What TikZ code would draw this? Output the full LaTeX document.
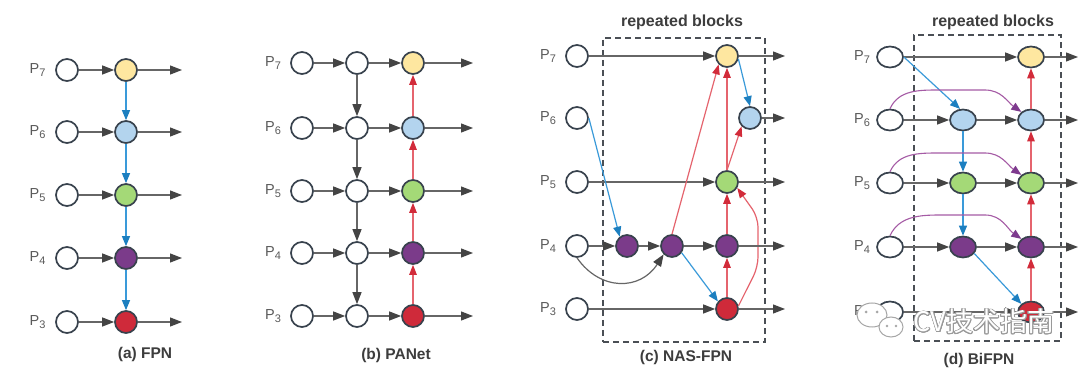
\documentclass[tikz,border=0pt]{standalone}
\usepackage{fontspec}
\setmainfont{Liberation Sans}
\newfontfamily\cjkf{Noto Sans CJK SC}
\usepackage{contour}
\usetikzlibrary{arrows.meta,shapes.geometric}
\definecolor{nline}{HTML}{38424D}
\definecolor{cyel}{HTML}{FEE7A0}
\definecolor{cblu}{HTML}{B3D4EE}
\definecolor{cgrn}{HTML}{A4D977}
\definecolor{cpur}{HTML}{7B3B8A}
\definecolor{cred}{HTML}{CF2A3A}
\definecolor{lgray}{HTML}{666666}
\definecolor{dgray}{HTML}{444444}
\definecolor{lblue}{HTML}{3A9AD9}
\definecolor{hblue}{HTML}{1C7FC0}
\definecolor{lred}{HTML}{E5646E}
\definecolor{hred}{HTML}{D22B3A}
\definecolor{lpur}{HTML}{A55BA5}
\definecolor{hpur}{HTML}{7E3A8E}
\definecolor{labc}{HTML}{5A5A5A}
\definecolor{capc}{HTML}{3D3D3D}
\definecolor{boxc}{HTML}{4A4F55}
\newcommand\plab[1]{P\raisebox{-0.35ex}{\fontsize{11}{11}\selectfont #1}}
\contourlength{0.7pt}
\tikzset{
  inp/.style={circle, draw=nline, line width=1.7pt, fill=white, minimum size=22pt, inner sep=0pt},
  einp/.style={ellipse, draw=nline, line width=1.7pt, fill=white, minimum width=26pt, minimum height=21pt, inner sep=0pt},
  blk/.style={draw=lgray, line width=1.2pt, -{Triangle[length=12pt,width=9pt,color=dgray]}},
  blu/.style={draw=lblue, line width=1.2pt, -{Triangle[length=10pt,width=8pt,color=hblue]}},
  rdd/.style={draw=lred, line width=1.2pt, -{Triangle[length=10pt,width=7.5pt,color=hred]}},
  ppl/.style={draw=lpur, line width=1.1pt, -{Triangle[length=10pt,width=8pt,color=hpur]}},
  lab/.style={font=\fontsize{14.5}{14.5}\selectfont, text=labc, inner sep=0pt},
  captxt/.style={font=\fontsize{15.5}{15.5}\selectfont\bfseries, text=capc, inner sep=0pt},
  rep/.style={draw=boxc, dash pattern=on 6pt off 4pt, line width=1.7pt, rectangle, inner sep=0pt},
  replab/.style={font=\fontsize{16}{16}\selectfont\bfseries, text=capc, inner sep=0pt},
}
\begin{document}
\begin{tikzpicture}[x=1pt,y=-1pt]
\useasboundingbox (0,0) rectangle (1080,371);
\fill[white] (0,0) rectangle (1080,371);

% ---------- (a) FPN ----------
\foreach \n/\y/\c in {7/70/cyel,6/132/cblu,5/195/cgrn,4/258/cpur,3/322/cred}{
  \node[lab] (al\n) at (37.5,\y) {\plab{\n}};
  \node[inp] (ai\n) at (67,\y) {};
  \node[inp, fill=\c] (ac\n) at (126,\y) {};
  \coordinate (ao\n) at (182,\y);
  \draw[blk] (ai\n) -- (ac\n);
  \draw[blk] (ac\n) -- (ao\n);
}
\draw[blu] (ac7) -- (ac6);
\draw[blu] (ac6) -- (ac5);
\draw[blu] (ac5) -- (ac4);
\draw[blu] (ac4) -- (ac3);
\node[captxt] (capa) at (145,354) {(a) FPN};

% ---------- (b) PANet ----------
\foreach \n/\y/\c in {7/63/cyel,6/128/cblu,5/191/cgrn,4/253/cpur,3/316/cred}{
  \node[lab] (bl\n) at (273,\y) {\plab{\n}};
  \node[inp] (bi\n) at (302,\y) {};
  \node[inp] (bm\n) at (357,\y) {};
  \node[inp, fill=\c] (bc\n) at (413,\y) {};
  \coordinate (bo\n) at (473,\y);
  \draw[blk] (bi\n) -- (bm\n);
  \draw[blk] (bm\n) -- (bc\n);
  \draw[blk] (bc\n) -- (bo\n);
}
\draw[blk] (bm7) -- (bm6);
\draw[blk] (bm6) -- (bm5);
\draw[blk] (bm5) -- (bm4);
\draw[blk] (bm4) -- (bm3);
\draw[rdd] (bc3) -- (bc4);
\draw[rdd] (bc4) -- (bc5);
\draw[rdd] (bc5) -- (bc6);
\draw[rdd] (bc6) -- (bc7);
\node[captxt] (capb) at (396,355) {(b) PANet};

% ---------- (c) NAS-FPN ----------
\node[rep, minimum width=162pt, minimum height=304pt] (cbox) at (684,190) {};
\node[replab] (crep) at (682,22) {repeated blocks};
\foreach \n/\y in {7/56,6/118,5/182,4/246,3/309}{
  \node[lab] (cl\n) at (548,\y) {\plab{\n}};
  \node[inp] (ci\n) at (577,\y) {};
}
\node[inp, fill=cyel] (cy) at (727,56) {};
\node[inp, fill=cblu] (cb) at (750,118) {};
\node[inp, fill=cgrn] (cg) at (727,182) {};
\node[inp, fill=cpur] (cp1) at (627,246) {};
\node[inp, fill=cpur] (cp2) at (672,246) {};
\node[inp, fill=cpur] (cp3) at (727,246) {};
\node[inp, fill=cred] (cr) at (727,309) {};
\coordinate (co7) at (785,56);
\coordinate (co6) at (785,118);
\coordinate (co5) at (785,182);
\coordinate (co4) at (785,246);
\coordinate (co3) at (785,309);
\draw[blk] (ci7) -- (cy);
\draw[blk] (ci5) -- (cg);
\draw[blk] (ci4) -- (cp1);
\draw[blk] (cp1) -- (cp2);
\draw[blk] (cp2) -- (cp3);
\draw[blk] (ci3) -- (cr);
\draw[blk] (ci4.south) .. controls (600,291) and (640,291) .. (cp2.225);
\draw[blu] (ci6.east) -- (cp1.128);
\draw[rdd] (cp2.north) -- (cy.225);
\draw[blu] (cp2.-35) -- (cr.140);
\draw[rdd] (cr) -- (cp3);
\draw[rdd] (cp3) -- (cg);
\draw[rdd] (cg) -- (cy);
\draw[rdd] (cg.north) -- (cb.225);
\draw[blu] (cy.-15) -- (cb.north);
\draw[rdd, rounded corners=10pt] (cr.15) -- (758,267) -- (758,217) -- (cg.-30);
\draw[blk] (cy) -- (co7);
\draw[blk] (cb) -- (co6);
\draw[blk] (cg) -- (co5);
\draw[blk] (cp3) -- (co4);
\draw[blk] (cr) -- (co3);
\node[captxt] (capc) at (686,357) {(c) NAS-FPN};

% ---------- (d) BiFPN ----------
\node[rep, minimum width=147pt, minimum height=306pt] (dbox) at (987.5,188) {};
\node[replab] (drep) at (993,22) {repeated blocks};
\foreach \n/\y in {7/57,6/120,5/183,4/247,3/312}{
  \node[lab] (dl\n) at (862,\y) {\plab{\n}};
  \node[einp] (di\n) at (890,\y) {};
  \coordinate (do\n) at (1078,\y);
}
\node[einp, fill=cyel] (dy) at (1031,57) {};
\node[einp, fill=cblu] (dm6) at (963,120) {};
\node[einp, fill=cblu] (dr6) at (1031,120) {};
\node[einp, fill=cgrn] (dm5) at (963,183) {};
\node[einp, fill=cgrn] (dr5) at (1031,183) {};
\node[einp, fill=cpur] (dm4) at (963,247) {};
\node[einp, fill=cpur] (dr4) at (1031,247) {};
\node[einp, fill=cred] (dr3) at (1031,312) {};
\draw[blk] (di7) -- (dy);
\draw[blk] (di6) -- (dm6);
\draw[blk] (dm6) -- (dr6);
\draw[blk] (di5) -- (dm5);
\draw[blk] (dm5) -- (dr5);
\draw[blk] (di4) -- (dm4);
\draw[blk] (dm4) -- (dr4);
\draw[blk] (di3) -- (dr3);
\draw[blu] (di7.east) -- (dm6.105);
\draw[blu] (dm6) -- (dm5);
\draw[blu] (dm5) -- (dm4);
\draw[blu] (dm4.-30) -- (dr3.140);
\draw[rdd] (dr3) -- (dr4);
\draw[rdd] (dr4) -- (dr5);
\draw[rdd] (dr5) -- (dr6);
\draw[rdd] (dr6) -- (dy);
\draw[ppl] (di6.north) to[out=65,in=180] (940,90) -- (985,90) to[out=0,in=145] (dr6.140);
\draw[ppl] (di5.north) to[out=65,in=180] (940,153) -- (985,153) to[out=0,in=145] (dr5.140);
\draw[ppl] (di4.north) to[out=65,in=180] (940,215) -- (985,215) to[out=0,in=145] (dr4.140);
\draw[blk] (dy) -- (do7);
\draw[blk] (dr6) -- (do6);
\draw[blk] (dr5) -- (do5);
\draw[blk] (dr4) -- (do4);
\draw[blk] (dr3) -- (do3);
\node[captxt] (capd) at (979,360) {(d) BiFPN};

% ---------- watermark ----------
\draw[gray!70, line width=1pt, fill=white] (872,315) ellipse (15pt and 12pt);
\draw[gray!70, line width=1pt, fill=white] (891,327) ellipse (12pt and 10pt);
\fill[gray!70] (866,312) circle (1.5pt) (877,312) circle (1.5pt) (887,326) circle (1.3pt) (896,326) circle (1.3pt);
\node[inner sep=0pt, font=\cjkf\fontsize{27}{27}\selectfont] (wm) at (984,322) {\contour{gray!80}{\textcolor{white}{CV技术指南}}};
\end{tikzpicture}
\end{document}
